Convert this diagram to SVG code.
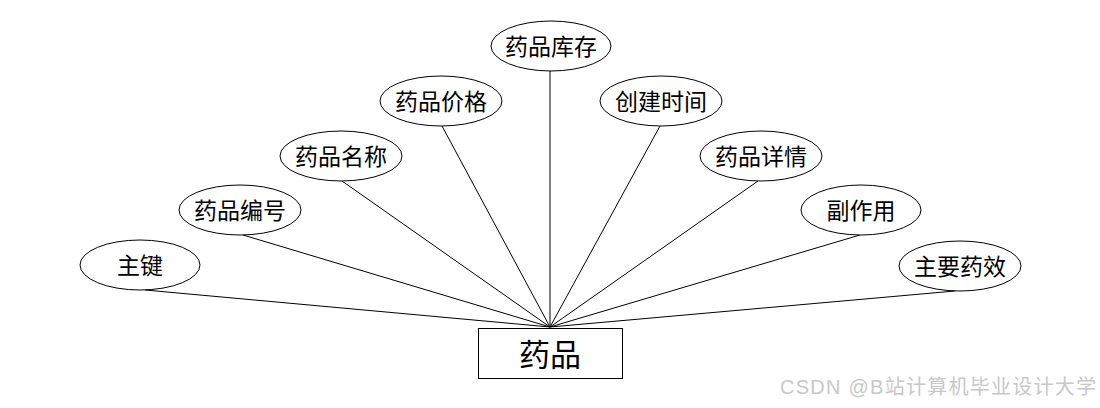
<svg xmlns="http://www.w3.org/2000/svg" width="1100" height="408" viewBox="0 0 1100 408">
<style>
.attr ellipse{fill:#fff;stroke:#000;stroke-width:1}
.attr text{font-family:"Microsoft YaHei","Noto Sans CJK SC",sans-serif;font-size:23px;fill:#000;text-anchor:middle;dominant-baseline:central}
#connectors line{stroke:#000;stroke-width:1}
.ent rect{fill:#fff;stroke:#000;stroke-width:1}
.ent text{font-family:"Microsoft YaHei","Noto Sans CJK SC",sans-serif;font-size:31px;fill:#000;text-anchor:middle;dominant-baseline:central}
.wm{font-family:"Liberation Sans","Noto Sans CJK SC",sans-serif;font-size:20px;fill:#c8c8c8}
</style>
<rect width="1100" height="408" fill="#fff"/>
<g id="connectors">
<line x1="145" y1="290" x2="550" y2="327"/>
<line x1="243" y1="235" x2="550" y2="327"/>
<line x1="342" y1="181" x2="550" y2="327"/>
<line x1="442" y1="126" x2="550" y2="327"/>
<line x1="550" y1="71" x2="550" y2="327"/>
<line x1="660" y1="126" x2="550" y2="327"/>
<line x1="758" y1="181" x2="550" y2="327"/>
<line x1="860" y1="235" x2="550" y2="327"/>
<line x1="955" y1="291" x2="550" y2="327"/>
</g>
<g id="n-zhujian" class="attr"><ellipse cx="140" cy="265" rx="60" ry="25"/><text x="140" y="264">主键</text></g>
<g id="n-bianhao" class="attr"><ellipse cx="240" cy="210" rx="61" ry="25"/><text x="240" y="209">药品编号</text></g>
<g id="n-mingcheng" class="attr"><ellipse cx="341" cy="156" rx="61" ry="25"/><text x="341" y="155">药品名称</text></g>
<g id="n-jiage" class="attr"><ellipse cx="441" cy="101" rx="61" ry="25"/><text x="441" y="100">药品价格</text></g>
<g id="n-kucun" class="attr"><ellipse cx="551" cy="46" rx="60" ry="25"/><text x="551" y="45">药品库存</text></g>
<g id="n-chuangjian" class="attr"><ellipse cx="661" cy="101" rx="61" ry="25"/><text x="661" y="100">创建时间</text></g>
<g id="n-xiangqing" class="attr"><ellipse cx="761" cy="156" rx="61" ry="25"/><text x="761" y="155">药品详情</text></g>
<g id="n-fuzuoyong" class="attr"><ellipse cx="861" cy="210" rx="60" ry="25"/><text x="861" y="209">副作用</text></g>
<g id="n-yaoxiao" class="attr"><ellipse cx="960" cy="266" rx="61" ry="25"/><text x="960" y="265">主要药效</text></g>
<g id="n-yaopin" class="ent"><rect x="478.500" y="328.500" width="144" height="50"/><text x="550" y="352">药品</text></g>
<text class="wm" x="780" y="394" textLength="316" lengthAdjust="spacing">CSDN @B站计算机毕业设计大学</text>
</svg>
